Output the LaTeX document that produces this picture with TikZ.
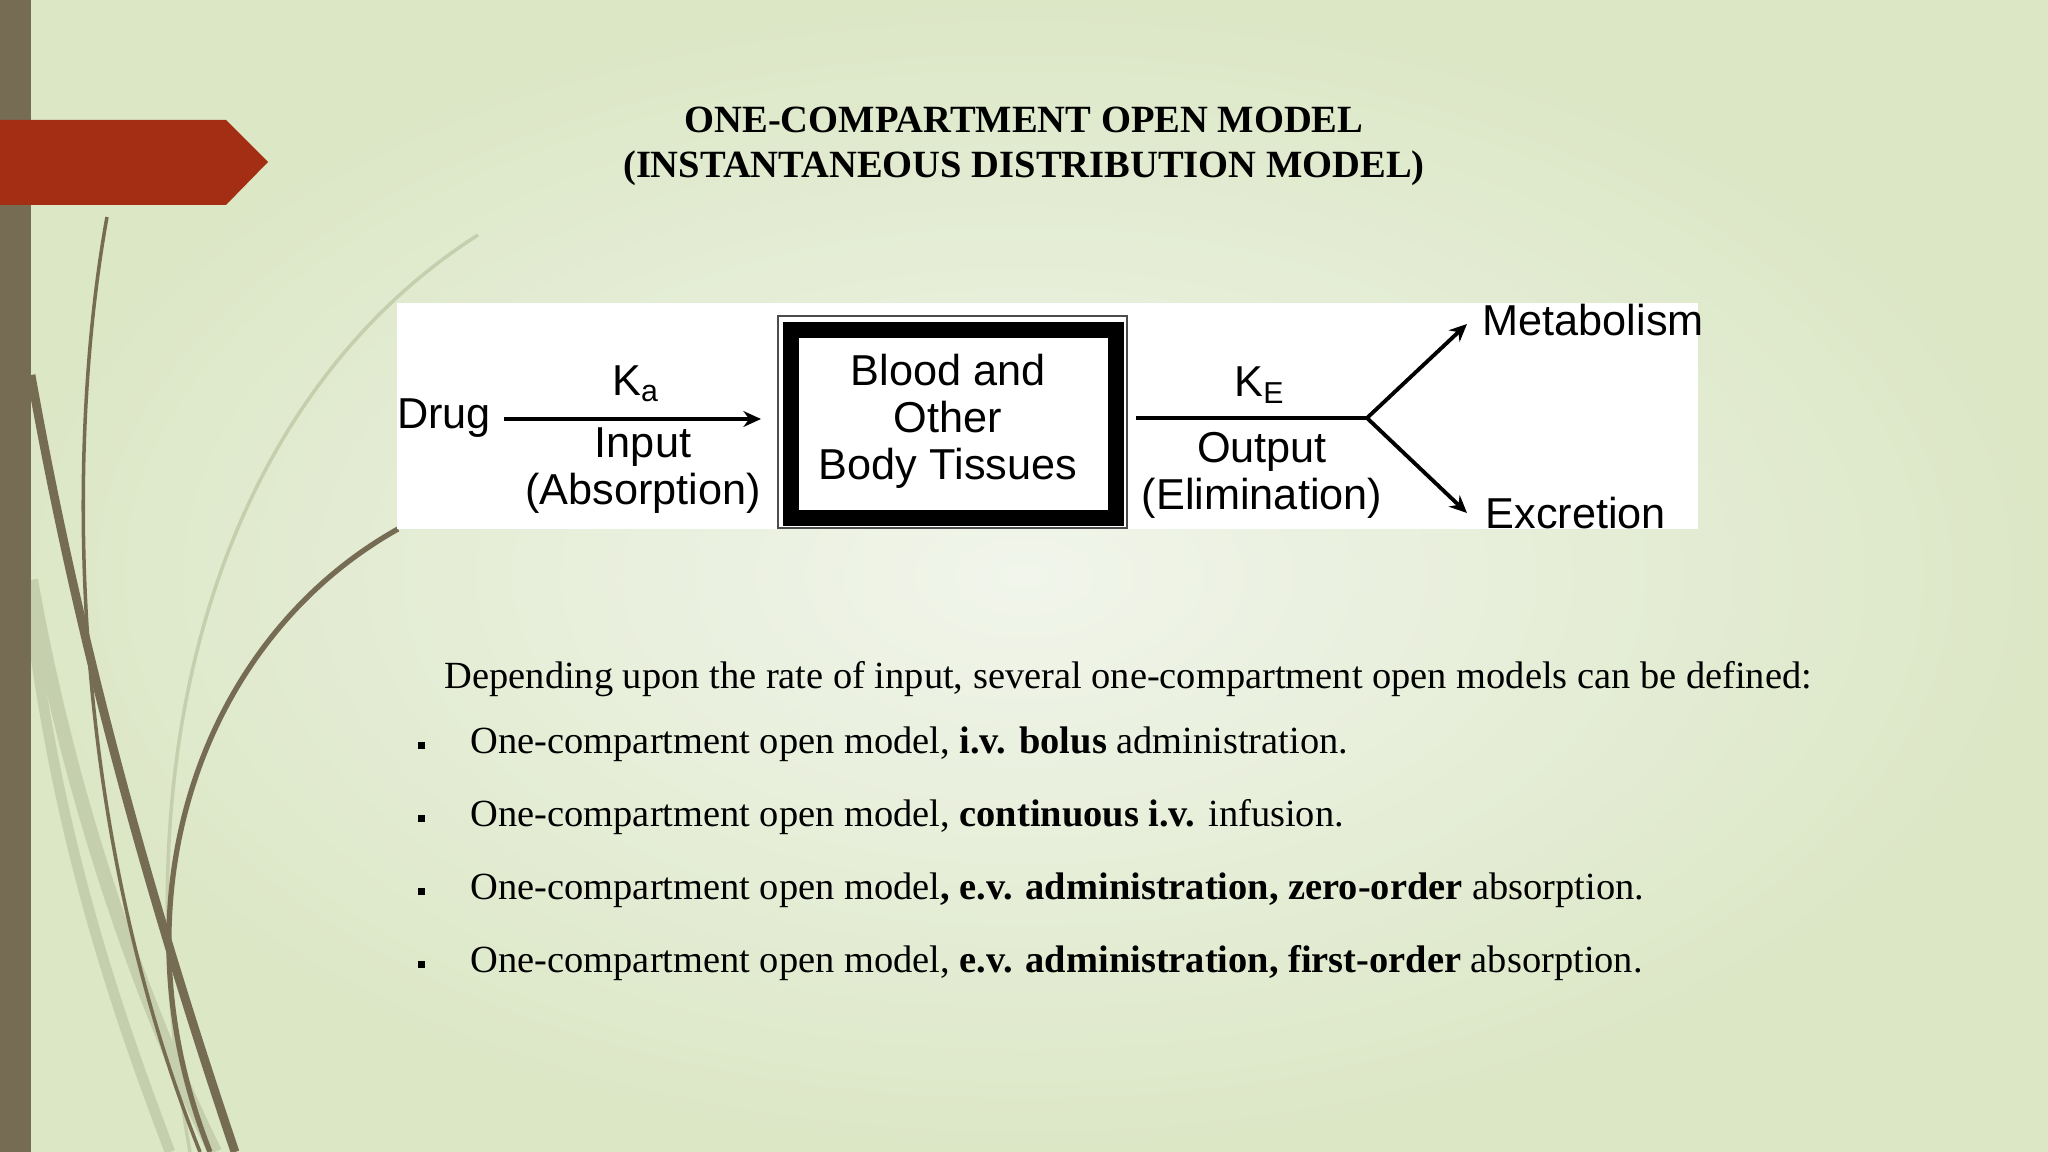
\documentclass[tikz,border=0pt]{standalone}
\usepackage{fontspec}
\setmainfont{Liberation Serif}
\setsansfont{Liberation Sans}
\usetikzlibrary{arrows.meta}
\begin{document}
\begin{tikzpicture}[x=0.01cm,y=-0.01cm,
  dg/.style={font=\sffamily\fontsize{12.3}{13.4}\selectfont, inner sep=0pt},
  ln/.style={line width=1.1pt},
  arr/.style={ln,-{Stealth[length=5pt,width=4.5pt]}},
  body/.style={font=\fontsize{10.93}{13}\selectfont, inner sep=0pt, anchor=west},
  curveD/.style={draw=barc, line width=#1},
  curveL/.style={draw=palec, line width=#1}]
\definecolor{barc}{HTML}{766C54}
\definecolor{redc}{HTML}{A32E13}
\definecolor{palec}{HTML}{C5CFAE}
\definecolor{bgin}{HTML}{F1F5EB}
\definecolor{bgout}{HTML}{DCE7C6}
\useasboundingbox (0,0) rectangle (2048,1152);
\shade[inner color=bgin, outer color=bgout] (0,0) rectangle (2048,1152);
% decorative curves
\draw[curveL=1pt] (478,235) .. controls (250,380) and (110,700) .. (190,1152);
\draw[curveL=4pt] (31,580) .. controls (70,800) and (140,1000) .. (215,1152);
\draw[curveL=3pt] (31,620) .. controls (60,850) and (120,1020) .. (170,1152);
\draw[curveD=1pt] (107,217) .. controls (70,420) and (60,800) .. (200,1152);
\draw[curveD=2.5pt] (31,375) .. controls (80,650) and (150,900) .. (235,1152);
\draw[curveD=1.5pt] (398,529) .. controls (200,640) and (110,900) .. (210,1152);
\fill[barc] (0,0) rectangle (31,1152);
\fill[redc] (0,120) -- (226,120) -- (268,162) -- (226,205) -- (0,205) -- cycle;
% title
\node[font=\bfseries\fontsize{10.96}{12.8}\selectfont, align=center] (title) at (1024,146)
  {ONE-COMPARTMENT OPEN MODEL\\(INSTANTANEOUS DISTRIBUTION MODEL)};
% diagram
\fill[white] (397,303) rectangle (1698,529);
\draw[line width=0.8pt, black!70] (778,316) rectangle (1127,528);
\draw[line width=4.5pt] (791,330) rectangle (1116,518);
\node[dg, align=center] (box) at (948,421) {Blood and\\Other\\Body Tissues};
\node[dg] (drug) at (444,418) {Drug};
\coordinate (b1) at (761,419);
\draw[arr] (drug.east) ++(12,1) coordinate (a0) (a0) -- (b1);
\node[dg] (ka) at (636,384) {K\textsubscript{a}};
\node[dg, align=center] (inp) at (643,471) {Input\\(Absorption)};
\coordinate (o0) at (1136,418);
\coordinate (fork) at (1367,418);
\draw[ln] (o0) -- (fork);
\node[dg] (ke) at (1260,385) {K\textsubscript{E}};
\node[dg, align=center] (outp) at (1262,475) {Output\\(Elimination)};
\node[dg, anchor=west] (met) at (1482,320) {Metabolism};
\node[dg, anchor=west] (exc) at (1485,513) {Excretion};
\coordinate (mt) at (1467,324);
\coordinate (et) at (1467,513);
\draw[arr] (fork) -- (mt);
\draw[arr] (fork) -- (et);
% body text
\node[body] (dep) at (444,679) {Depending upon the rate of input, several one-compartment open models can be defined:};
\node[body] (l1) at (470,744) {One-compartment open model, \textbf{i.v. bolus} administration.};
\node[body] (l2) at (470,817) {One-compartment open model, \textbf{continuous i.v.} infusion.};
\node[body] (l3) at (470,890) {One-compartment open model\textbf{, e.v. administration, zero-order} absorption.};
\node[body] (l4) at (470,963) {One-compartment open model, \textbf{e.v. administration, first-order} absorption.};
\foreach \n in {l1,l2,l3,l4} \fill (\n.west) ++(-52,-2) rectangle ++(7,7);
\end{tikzpicture}
\end{document}
